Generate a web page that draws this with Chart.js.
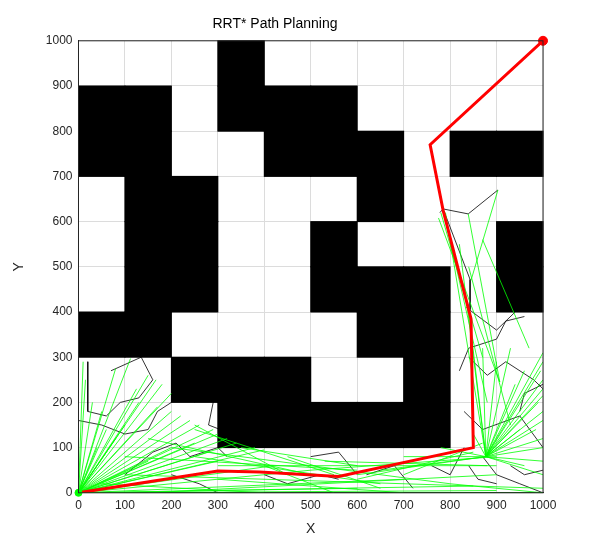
<!DOCTYPE html>
<html>
<head>
<meta charset="utf-8">
<script src="https://cdn.jsdelivr.net/npm/chart.js@4.4.1/dist/chart.umd.min.js"></script>
<style>
  body { margin: 0; background: #fff; }
  #wrap { width: 600px; height: 550px; }
</style>
</head>
<body>
<div id="wrap"><canvas id="c"></canvas></div>
<script>
// Obstaculos: canto inferior esquerdo de cada celula preta (100x100)
const obstacles = [
  [300, 900],
  [0, 800], [100, 800], [300, 800], [400, 800], [500, 800],
  [0, 700], [100, 700], [400, 700], [500, 700], [600, 700], [800, 700], [900, 700],
  [100, 600], [200, 600], [600, 600],
  [100, 500], [200, 500], [500, 500], [900, 500],
  [100, 400], [200, 400], [500, 400], [600, 400], [700, 400], [900, 400],
  [0, 300], [100, 300], [600, 300], [700, 300],
  [200, 200], [300, 200], [400, 200], [700, 200],
  [300, 100], [400, 100], [500, 100], [600, 100], [700, 100]
];

// Caminho final
const pathX = [0, 300, 390, 560, 850, 845, 785, 757, 1000];
const pathY = [0, 48, 46, 36, 100, 385, 625, 770, 1000];

// Arestas verdes a partir da origem (pontas)
const fanOrigin = [
  [10, 290], [15, 250], [30, 200], [50, 180], [80, 275], [112, 297], [125, 230], [150, 260],
  [167, 250], [180, 240], [200, 220], [130, 200], [170, 190], [200, 180], [220, 170], [240, 160],
  [260, 150], [290, 140], [300, 130], [320, 120], [250, 110], [340, 110], [200, 100], [280, 90],
  [380, 100], [400, 95], [150, 70], [300, 70], [420, 60], [500, 50], [700, 30], [850, 15],
  [600, 10], [900, 5], [1000, 0], [60, 140], [80, 120], [100, 150], [40, 100], [0, 300]
];
// Arestas verdes a partir do no (877, 80)
const hub = [877, 80];
const fanHub = [
  [1000, 310], [1000, 290], [995, 270], [1000, 250], [1000, 230], [1000, 215], [990, 200],
  [1000, 180], [1000, 160], [985, 140], [1000, 120], [1000, 100], [940, 240], [960, 270],
  [900, 290], [870, 320], [930, 320], [840, 400], [820, 550], [790, 620], [850, 130],
  [950, 140], [960, 60], [1000, 70], [1000, 40], [780, 100], [700, 80], [650, 50], [600, 40]
];
// Outras arestas verdes [x1, y1, x2, y2]
const greenSegs = [
  [100, 80, 600, 50], [150, 120, 500, 40], [200, 100, 800, 20], [250, 80, 650, 20],
  [300, 60, 900, 60], [100, 40, 1000, 10], [300, 30, 700, 0], [400, 60, 550, 0],
  [500, 50, 900, 80], [600, 30, 850, 90], [700, 40, 870, 110], [450, 80, 650, 10],
  [350, 100, 600, 60], [250, 140, 550, 40], [530, 70, 880, 60], [250, 150, 450, 40],
  [903, 670, 845, 470], [839, 617, 907, 245], [775, 608, 907, 245], [780, 620, 870, 300],
  [785, 625, 880, 200], [870, 560, 970, 320], [840, 500, 930, 150], [800, 20, 1000, 0],
  [50, 20, 400, 0], [150, 0, 900, 40]
];
// Arestas pretas (cadeias de pontos)
const blackChains = [
  [[20, 290], [20, 180], [60, 170], [90, 200], [130, 210], [160, 250], [135, 300], [70, 270]],
  [[0, 160], [50, 150], [100, 130], [150, 140], [170, 180], [200, 200]],
  [[250, 200], [270, 230], [290, 200], [280, 150], [330, 130]],
  [[100, 40], [160, 90], [210, 110], [240, 80], [300, 100], [320, 80]],
  [[300, 140], [350, 180], [370, 150], [430, 175]],
  [[200, 40], [260, 20], [300, 0]],
  [[400, 40], [450, 20], [520, 40], [560, 30]],
  [[500, 80], [560, 90], [600, 40]],
  [[620, 40], [680, 60], [720, 10]],
  [[760, 60], [800, 40], [830, 100]],
  [[870, 80], [900, 40], [950, 20], [1000, 0]],
  [[820, 270], [840, 320], [900, 340], [920, 380], [960, 390]],
  [[835, 410], [900, 360], [940, 400]],
  [[840, 300], [880, 260], [920, 290], [980, 250], [1000, 230]],
  [[830, 180], [870, 140], [950, 170], [1000, 100]],
  [[930, 60], [960, 40], [1000, 50]],
  [[840, 60], [860, 30], [900, 20]],
  [[1000, 240], [960, 220], [950, 180]],
  [[778, 620], [785, 628], [839, 617], [903, 670]],
  [[785, 628], [843, 472], [843, 405]]
];

const ticks = [0, 100, 200, 300, 400, 500, 600, 700, 800, 900, 1000];

function segsToData(segs) {
  const out = [];
  segs.forEach(s => {
    out.push({ x: s[0], y: s[1] }, { x: s[2], y: s[3] }, { x: null, y: null });
  });
  return out;
}

const greenData = segsToData(
  fanOrigin.map(p => [0, 0, p[0], p[1]])
    .concat(fanHub.map(p => [hub[0], hub[1], p[0], p[1]]))
    .concat(greenSegs)
);
const blackData = [];
blackChains.forEach(ch => {
  ch.forEach(p => blackData.push({ x: p[0], y: p[1] }));
  blackData.push({ x: null, y: null });
});

const obstaclePlugin = {
  id: 'obstacles',
  beforeDatasetsDraw(chart) {
    const { ctx, scales: { x, y } } = chart;
    ctx.save();
    ctx.fillStyle = '#000';
    obstacles.forEach(o => {
      const x1 = x.getPixelForValue(o[0]), x2 = x.getPixelForValue(o[0] + 100);
      const y1 = y.getPixelForValue(o[1] + 100), y2 = y.getPixelForValue(o[1]);
      ctx.fillRect(x1 - 0.5, y1 - 0.5, x2 - x1 + 1, y2 - y1 + 1);
    });
    ctx.restore();
  },
  afterDraw(chart) {
    const { ctx, chartArea: a } = chart;
    ctx.save();
    ctx.strokeStyle = '#262626';
    ctx.lineWidth = 1;
    ctx.strokeRect(a.left, a.top, a.right - a.left, a.bottom - a.top);
    ctx.restore();
  }
};

const font = { family: 'Liberation Sans, Arial, sans-serif', size: 12 };

new Chart(document.getElementById('c'), {
  type: 'scatter',
  data: {
    datasets: [
      { data: blackData, showLine: true, borderColor: '#000', borderWidth: 0.8, pointRadius: 0, spanGaps: false, order: 3 },
      { data: greenData, showLine: true, borderColor: '#00ff00', borderWidth: 0.8, pointRadius: 0, spanGaps: false, order: 2 },
      { data: pathX.map((v, i) => ({ x: v, y: pathY[i] })), showLine: true, borderColor: '#ff0000', borderWidth: 3, pointRadius: 0, order: 1 },
      { data: [{ x: 1000, y: 1000 }], pointRadius: 4.5, pointBackgroundColor: '#ff0000', pointBorderColor: '#ff0000', clip: false, order: 0 },
      { data: [{ x: 0, y: 0 }], pointRadius: 3.5, pointBackgroundColor: '#00ff00', pointBorderColor: '#00ff00', clip: false, order: 0 }
    ]
  },
  options: {
    responsive: true,
    maintainAspectRatio: false,
    animation: false,
    layout: { padding: { left: 7, right: 57, top: 6, bottom: 8 } },
    plugins: {
      legend: { display: false },
      tooltip: { enabled: false },
      title: { display: true, text: 'RRT* Path Planning', color: '#000', font: { ...font, size: 14, weight: 'normal' }, padding: { top: 10, bottom: 8 } }
    },
    scales: {
      x: {
        type: 'linear', min: 0, max: 1000,
        afterBuildTicks: s => { s.ticks = ticks.map(v => ({ value: v })); },
        grid: { color: '#dcdcdc', drawTicks: false },
        border: { color: '#262626' },
        ticks: { color: '#262626', font, padding: 6, maxRotation: 0, callback: v => String(v) },
        title: { display: true, text: 'X', color: '#262626', font: { ...font, size: 14 }, padding: { top: 2 } }
      },
      y: {
        type: 'linear', min: 0, max: 1000,
        afterBuildTicks: s => { s.ticks = ticks.map(v => ({ value: v })); },
        grid: { color: '#dcdcdc', drawTicks: false },
        border: { color: '#262626' },
        ticks: { color: '#262626', font, padding: 6, callback: v => String(v) },
        title: { display: true, text: 'Y', color: '#262626', font: { ...font, size: 14 }, padding: { bottom: 12 } }
      }
    }
  },
  plugins: [obstaclePlugin]
});
</script>
</body>
</html>
